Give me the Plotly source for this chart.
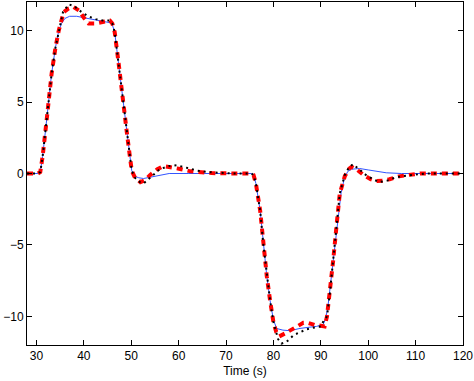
import plotly.graph_objects as go

# Reference (blue, thin solid)
t_ref = [28, 30.3, 30.8, 31.3, 32.0, 32.5, 33.2, 34.0, 34.7, 35.3, 36.0, 37.0, 38.5, 40, 42, 44, 45.5,
         46.0, 46.5, 47.3, 48.25, 49.2, 50.1, 50.8, 51.6, 52.6, 54, 56, 58, 62, 75.3, 75.8, 76.3, 77.2,
         77.85, 78.6, 79.3, 80.0, 80.7, 82.0, 83.5, 85.6, 87.7, 89.1, 90.5, 91.0, 91.5, 92.2, 92.9, 93.6,
         94.3, 95.0, 95.7, 96.5, 98.2, 100, 102, 103.8, 107, 120]
y_ref = [0, 0, 0.1, 1.2, 3.3, 5.0, 7.0, 8.8, 10.0, 10.5, 10.85, 11.0, 11.0, 10.9, 10.8, 10.65, 10.55,
         10.4, 9.9, 7.8, 5.0, 2.5, 0.2, -0.2, -0.3, -0.35, -0.25, -0.1, 0, 0, 0, -0.1, -0.7, -2.6,
         -4.9, -7.2, -8.9, -10.26, -10.85, -10.96, -11.0, -10.84, -10.75, -10.7, -10.55, -10.2, -9.3, -7.3, -5.2, -3.1,
         -1.3, -0.3, 0.15, 0.3, 0.35, 0.25, 0.12, 0.05, 0, 0]

# Controller A (red, thick dashed)
t_a = [28, 30.3, 30.8, 31.3, 32.0, 32.5, 33.2, 34.0, 34.7, 35.75, 36.8, 37.8, 39.0, 40.0, 41.0, 42.5, 44,
       45.5, 46.0, 46.5, 47.3, 48.25, 49.2, 50.1, 50.8, 51.9, 53, 54, 55.5, 56.8, 58.5, 60.3, 62.5, 64.5,
       67, 72, 75.3, 75.8, 76.3, 77.2, 77.85, 78.6, 79.3, 80.0, 80.6, 81.2, 82.4, 84.1, 85.3, 86.3, 87.3,
       88.7, 90.0, 90.8, 91.3, 91.9, 92.6, 93.3, 94.0, 95.05, 96.0, 96.5, 97.5, 99.0, 100.5, 101.7, 103.0,
       104.5, 106.5, 108.5, 111, 120]
y_a = [0, 0, 0.1, 1.2, 3.3, 5.0, 7.0, 8.8, 10.0, 11.3, 11.55, 11.65, 11.4, 10.9, 10.5, 10.5, 10.6,
       10.7, 10.5, 9.9, 7.8, 5.0, 2.5, 0.2, -0.3, -0.6, -0.45, -0.1, 0.3, 0.52, 0.45, 0.32, 0.15, 0.1,
       0.03, 0, 0, -0.1, -0.7, -2.6, -4.9, -7.2, -8.9, -10.4, -11.1, -11.4, -11.2, -10.84, -10.6, -10.45, -10.45,
       -10.6, -10.65, -10.7, -10.0, -8.4, -6.1, -3.7, -1.4, -0.2, 0.35, 0.47, 0.3, -0.1, -0.4, -0.52, -0.5,
       -0.4, -0.2, -0.1, 0, 0]

# Controller B (black, dotted)
t_b = [28, 30.3, 30.8, 31.3, 32.0, 32.5, 33.2, 34.0, 34.7, 35.6, 36.8, 38.0, 39.5, 40.9, 42.5, 44, 45.5,
       46.0, 46.5, 47.3, 48.25, 49.2, 50.1, 50.8, 51.8, 52.6, 54, 56, 58.0, 59.6, 61.7, 64, 66, 71.7,
       75.3, 75.8, 76.3, 77.2, 77.85, 78.6, 79.3, 80.0, 80.5, 81.0, 81.7, 82.7, 84.3, 85.6, 87.0, 88.3,
       90.0, 90.6, 91.3, 91.9, 92.6, 93.3, 94.0, 95.05, 96.0, 96.8, 98.0, 99.5, 101.0, 102.3, 104.0,
       105.5, 107, 109, 112, 120]
y_b = [0, 0, 0.1, 1.2, 3.3, 5.0, 7.0, 8.8, 10.0, 11.3, 11.84, 11.7, 11.3, 11.0, 10.8, 10.7, 10.7,
       10.5, 9.9, 7.8, 5.0, 2.5, 0.2, -0.3, -0.6, -0.7, -0.3, 0.3, 0.52, 0.58, 0.4, 0.2, 0.1, 0,
       0, -0.1, -0.7, -2.6, -4.9, -7.2, -8.9, -10.4, -11.0, -11.6, -11.9, -11.8, -11.3, -11.1, -10.9, -10.8,
       -10.7, -10.3, -10.0, -8.4, -6.1, -3.7, -1.4, -0.1, 0.45, 0.65, 0.3, -0.1, -0.4, -0.6, -0.5,
       -0.3, -0.2, -0.1, 0, 0]

x_ticks = [30, 40, 50, 60, 70, 80, 90, 100, 110, 120]
y_ticks = [-10, -5, 0, 5, 10]

fig = go.Figure()
fig.add_trace(go.Scatter(x=t_ref, y=y_ref, mode="lines",
                         line=dict(color="#3355ff", width=1)))
fig.add_trace(go.Scatter(x=t_a, y=y_a, mode="lines",
                         line=dict(color="#ff0000", width=4, dash="6px,5px")))
fig.add_trace(go.Scatter(x=t_b, y=y_b, mode="lines",
                         line=dict(color="#000000", width=2, dash="2px,4px")))

font_family = "Liberation Sans, Arial, sans-serif"
axis_common = dict(
    showline=True, linecolor="#000000", linewidth=1, mirror="allticks",
    ticks="inside", ticklen=5, tickcolor="#000000", tickwidth=1,
    showgrid=False, zeroline=False,
    tickfont=dict(family=font_family, size=12, color="#000000"),
)

fig.update_layout(
    width=474, height=381,
    margin=dict(l=27, r=11, t=2, b=36),
    paper_bgcolor="white", plot_bgcolor="white",
    showlegend=False,
    xaxis=dict(range=[28, 120], tickvals=x_ticks,
               title=dict(text="Time (s)", standoff=4,
                          font=dict(family=font_family, size=12, color="#000000")),
               **axis_common),
    yaxis=dict(range=[-12, 12], tickvals=y_ticks, **axis_common),
)

fig.write_html("out.html", config={"displayModeBar": False},
               post_script="document.body.style.margin='0';document.body.style.overflow='hidden';")
